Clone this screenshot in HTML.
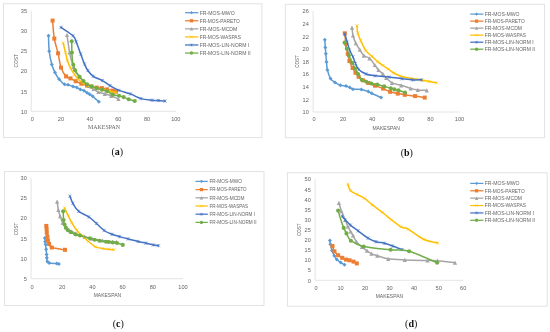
<!DOCTYPE html>
<html><head><meta charset="utf-8"><title>Figure</title>
<style>
html,body{margin:0;padding:0;background:#fff;}
body{width:550px;height:332px;overflow:hidden;}
svg{display:block;}
text{font-family:"Liberation Sans",sans-serif;}
.cap{font-family:"Liberation Serif",serif;}
</style></head><body>
<svg width="550" height="332" viewBox="0 0 550 332">
<rect width="550" height="332" fill="#fff"/>

<g>
<rect x="3.4" y="3.8" width="258.5" height="133.8" fill="#fff" stroke="#dfdfdf" stroke-width="0.9"/>
<path d="M31.3,10.8 V111.3 H175.8" stroke="#dbdbdb" stroke-width="0.75" fill="none"/>
<text x="27" y="113.6" font-size="5.6" fill="#646464" text-anchor="end">10</text>
<text x="27" y="93.5" font-size="5.6" fill="#646464" text-anchor="end">15</text>
<text x="27" y="73.4" font-size="5.6" fill="#646464" text-anchor="end">20</text>
<text x="27" y="53.3" font-size="5.6" fill="#646464" text-anchor="end">25</text>
<text x="27" y="33.2" font-size="5.6" fill="#646464" text-anchor="end">30</text>
<text x="27" y="13.1" font-size="5.6" fill="#646464" text-anchor="end">35</text>
<text x="32.2" y="120.7" font-size="5.6" fill="#646464" text-anchor="middle">0</text>
<text x="60.92" y="120.7" font-size="5.6" fill="#646464" text-anchor="middle">20</text>
<text x="89.64" y="120.7" font-size="5.6" fill="#646464" text-anchor="middle">40</text>
<text x="118.36" y="120.7" font-size="5.6" fill="#646464" text-anchor="middle">60</text>
<text x="147.08" y="120.7" font-size="5.6" fill="#646464" text-anchor="middle">80</text>
<text x="175.8" y="120.7" font-size="5.6" fill="#646464" text-anchor="middle">100</text>
<text x="104" y="129.3" font-size="5.6" fill="#646464" text-anchor="middle" textLength="32" lengthAdjust="spacingAndGlyphs" class="cap">MAKESPAN</text>
<text transform="translate(17.7,60.7) rotate(-90)" font-size="5.6" fill="#646464" text-anchor="middle" textLength="13.5" lengthAdjust="spacingAndGlyphs">COST</text>
<path d="M48.5,35.8 C48.62,38.37 48.65,46.42 49.2,51.2 C49.75,55.98 50.83,60.93 51.8,64.5 C52.77,68.07 53.78,70.15 55,72.6 C56.22,75.05 57.52,77.25 59.1,79.2 C60.68,81.15 63.02,83.37 64.5,84.3 C65.98,85.23 66.58,84.45 68,84.8 C69.42,85.15 71.53,85.93 73,86.4 C74.47,86.87 75.57,87.1 76.8,87.6 C78.03,88.1 79.2,88.88 80.4,89.4 C81.6,89.92 82.9,90.13 84,90.7 C85.1,91.27 86.07,92.2 87,92.8 C87.93,93.4 88.65,93.72 89.6,94.3 C90.55,94.88 91.17,95.07 92.7,96.3 C94.23,97.53 97.78,100.8 98.8,101.7" stroke="#5B9BD5" stroke-width="1.5" fill="none" stroke-linejoin="round" stroke-linecap="round"/>
<path d="M48.5,33.8 l2,2 l-2,2 l-2,-2 z" fill="#5B9BD5"/><path d="M49.2,49.2 l2,2 l-2,2 l-2,-2 z" fill="#5B9BD5"/><path d="M51.8,62.5 l2,2 l-2,2 l-2,-2 z" fill="#5B9BD5"/><path d="M55,70.6 l2,2 l-2,2 l-2,-2 z" fill="#5B9BD5"/><path d="M59.1,77.2 l2,2 l-2,2 l-2,-2 z" fill="#5B9BD5"/><path d="M64.5,82.3 l2,2 l-2,2 l-2,-2 z" fill="#5B9BD5"/><path d="M68,82.8 l2,2 l-2,2 l-2,-2 z" fill="#5B9BD5"/><path d="M73,84.4 l2,2 l-2,2 l-2,-2 z" fill="#5B9BD5"/><path d="M76.8,85.6 l2,2 l-2,2 l-2,-2 z" fill="#5B9BD5"/><path d="M80.4,87.4 l2,2 l-2,2 l-2,-2 z" fill="#5B9BD5"/><path d="M84,88.7 l2,2 l-2,2 l-2,-2 z" fill="#5B9BD5"/><path d="M87,90.8 l2,2 l-2,2 l-2,-2 z" fill="#5B9BD5"/><path d="M89.6,92.3 l2,2 l-2,2 l-2,-2 z" fill="#5B9BD5"/><path d="M92.7,94.3 l2,2 l-2,2 l-2,-2 z" fill="#5B9BD5"/><path d="M98.8,99.7 l2,2 l-2,2 l-2,-2 z" fill="#5B9BD5"/>
<path d="M52.6,20.6 C52.88,23.6 53.38,33.15 54.3,38.6 C55.22,44.05 56.98,48.47 58.1,53.3 C59.22,58.13 59.67,63.75 61,67.6 C62.33,71.45 64.52,74.6 66.1,76.4 C67.68,78.2 68.9,77.6 70.5,78.4 C72.1,79.2 73.88,80.32 75.7,81.2 C77.52,82.08 79.52,82.97 81.4,83.7 C83.28,84.43 85.3,85.12 87,85.6 C88.7,86.08 89.98,86.27 91.6,86.6 C93.22,86.93 94.98,87.35 96.7,87.6 C98.42,87.85 100.18,87.8 101.9,88.1 C103.62,88.4 105.22,88.98 107,89.4 C108.78,89.82 111.1,90.22 112.6,90.6 C114.1,90.98 115.43,91.52 116,91.7" stroke="#ED7D31" stroke-width="1.5" fill="none" stroke-linejoin="round" stroke-linecap="round"/>
<rect x="50.6" y="18.6" width="4" height="4" fill="#ED7D31"/><rect x="52.3" y="36.6" width="4" height="4" fill="#ED7D31"/><rect x="56.1" y="51.3" width="4" height="4" fill="#ED7D31"/><rect x="59" y="65.6" width="4" height="4" fill="#ED7D31"/><rect x="64.1" y="74.4" width="4" height="4" fill="#ED7D31"/><rect x="68.5" y="76.4" width="4" height="4" fill="#ED7D31"/><rect x="73.7" y="79.2" width="4" height="4" fill="#ED7D31"/><rect x="79.4" y="81.7" width="4" height="4" fill="#ED7D31"/><rect x="85" y="83.6" width="4" height="4" fill="#ED7D31"/><rect x="89.6" y="84.6" width="4" height="4" fill="#ED7D31"/><rect x="94.7" y="85.6" width="4" height="4" fill="#ED7D31"/><rect x="99.9" y="86.1" width="4" height="4" fill="#ED7D31"/><rect x="105" y="87.4" width="4" height="4" fill="#ED7D31"/><rect x="110.6" y="88.6" width="4" height="4" fill="#ED7D31"/><rect x="114" y="89.7" width="4" height="4" fill="#ED7D31"/>
<path d="M67,35 C67.22,36.5 67.87,41.08 68.3,44 C68.73,46.92 69.1,49.83 69.6,52.5 C70.1,55.17 70.63,57.58 71.3,60 C71.97,62.42 72.98,65.17 73.6,67 C74.22,68.83 74.1,69.42 75,71 C75.9,72.58 77.5,74.7 79,76.5 C80.5,78.3 82.33,80.25 84,81.8 C85.67,83.35 87.42,84.6 89,85.8 C90.58,87 91.93,87.97 93.5,89 C95.07,90.03 96.52,91.2 98.4,92 C100.28,92.8 102.67,93.17 104.8,93.8 C106.93,94.43 108.93,94.95 111.2,95.8 C113.47,96.65 117.2,98.38 118.4,98.9" stroke="#A5A5A5" stroke-width="1.5" fill="none" stroke-linejoin="round" stroke-linecap="round"/>
<path d="M67,32.9 L69.1,37.1 L64.9,37.1 z" fill="#A5A5A5"/><path d="M69.6,50.4 L71.7,54.6 L67.5,54.6 z" fill="#A5A5A5"/><path d="M73.6,64.9 L75.7,69.1 L71.5,69.1 z" fill="#A5A5A5"/><path d="M79,74.4 L81.1,78.6 L76.9,78.6 z" fill="#A5A5A5"/><path d="M84,79.7 L86.1,83.9 L81.9,83.9 z" fill="#A5A5A5"/><path d="M89,83.7 L91.1,87.9 L86.9,87.9 z" fill="#A5A5A5"/><path d="M93.5,86.9 L95.6,91.1 L91.4,91.1 z" fill="#A5A5A5"/><path d="M98.4,89.9 L100.5,94.1 L96.3,94.1 z" fill="#A5A5A5"/><path d="M104.8,91.7 L106.9,95.9 L102.7,95.9 z" fill="#A5A5A5"/><path d="M111.2,93.7 L113.3,97.9 L109.1,97.9 z" fill="#A5A5A5"/><path d="M118.4,96.8 L120.5,101 L116.3,101 z" fill="#A5A5A5"/>
<path d="M63.2,43 C63.58,44.62 64.8,49.8 65.5,52.7 C66.2,55.6 66.57,57.85 67.4,60.4 C68.23,62.95 69.33,65.67 70.5,68 C71.67,70.33 73.12,72.52 74.4,74.4 C75.68,76.28 76.77,77.9 78.2,79.3 C79.63,80.7 81.45,81.82 83,82.8 C84.55,83.78 85.98,84.53 87.5,85.2 C89.02,85.87 90.35,86.25 92.1,86.8 C93.85,87.35 96.02,87.97 98,88.5 C99.98,89.03 102,89.55 104,90 C106,90.45 107.92,90.78 110,91.2 C112.08,91.62 115.42,92.28 116.5,92.5" stroke="#FFC000" stroke-width="1.5" fill="none" stroke-linejoin="round" stroke-linecap="round"/>
<path d="M61.55,41.35 L64.85,44.65 M61.55,44.65 L64.85,41.35" stroke="#FFC000" stroke-width="0.55" fill="none"/><path d="M63.85,51.05 L67.15,54.35 M63.85,54.35 L67.15,51.05" stroke="#FFC000" stroke-width="0.55" fill="none"/><path d="M65.75,58.75 L69.05,62.05 M65.75,62.05 L69.05,58.75" stroke="#FFC000" stroke-width="0.55" fill="none"/><path d="M68.85,66.35 L72.15,69.65 M68.85,69.65 L72.15,66.35" stroke="#FFC000" stroke-width="0.55" fill="none"/><path d="M72.75,72.75 L76.05,76.05 M72.75,76.05 L76.05,72.75" stroke="#FFC000" stroke-width="0.55" fill="none"/><path d="M76.55,77.65 L79.85,80.95 M76.55,80.95 L79.85,77.65" stroke="#FFC000" stroke-width="0.55" fill="none"/><path d="M81.35,81.15 L84.65,84.45 M81.35,84.45 L84.65,81.15" stroke="#FFC000" stroke-width="0.55" fill="none"/><path d="M85.85,83.55 L89.15,86.85 M85.85,86.85 L89.15,83.55" stroke="#FFC000" stroke-width="0.55" fill="none"/><path d="M90.45,85.15 L93.75,88.45 M90.45,88.45 L93.75,85.15" stroke="#FFC000" stroke-width="0.55" fill="none"/><path d="M96.35,86.85 L99.65,90.15 M96.35,90.15 L99.65,86.85" stroke="#FFC000" stroke-width="0.55" fill="none"/><path d="M102.35,88.35 L105.65,91.65 M102.35,91.65 L105.65,88.35" stroke="#FFC000" stroke-width="0.55" fill="none"/><path d="M108.35,89.55 L111.65,92.85 M108.35,92.85 L111.65,89.55" stroke="#FFC000" stroke-width="0.55" fill="none"/><path d="M114.85,90.85 L118.15,94.15 M114.85,94.15 L118.15,90.85" stroke="#FFC000" stroke-width="0.55" fill="none"/>
<path d="M61,27.4 C63,28.8 70.45,33.37 73,35.8 C75.55,38.23 75.02,38.97 76.3,42 C77.58,45.03 79.33,50.33 80.7,54 C82.07,57.67 83.32,61.25 84.5,64 C85.68,66.75 86.33,68.45 87.8,70.5 C89.27,72.55 90.87,74.62 93.3,76.3 C95.73,77.98 99.62,79.05 102.4,80.6 C105.18,82.15 107.23,83.97 110,85.6 C112.77,87.23 115.6,89.02 119,90.4 C122.4,91.78 126.73,92.53 130.4,93.9 C134.07,95.27 137.4,97.55 141,98.6 C144.6,99.65 149.08,99.88 152,100.2 C154.92,100.52 156.33,100.37 158.5,100.5 C160.67,100.63 163.92,100.92 165,101" stroke="#4472C4" stroke-width="1.5" fill="none" stroke-linejoin="round" stroke-linecap="round"/>
<path d="M59.35,25.75 L62.65,29.05 M59.35,29.05 L62.65,25.75 M61,25.75 L61,29.05" stroke="#4472C4" stroke-width="0.55" fill="none"/><path d="M71.35,34.15 L74.65,37.45 M71.35,37.45 L74.65,34.15 M73,34.15 L73,37.45" stroke="#4472C4" stroke-width="0.55" fill="none"/><path d="M74.65,40.35 L77.95,43.65 M74.65,43.65 L77.95,40.35 M76.3,40.35 L76.3,43.65" stroke="#4472C4" stroke-width="0.55" fill="none"/><path d="M79.05,52.35 L82.35,55.65 M79.05,55.65 L82.35,52.35 M80.7,52.35 L80.7,55.65" stroke="#4472C4" stroke-width="0.55" fill="none"/><path d="M82.85,62.35 L86.15,65.65 M82.85,65.65 L86.15,62.35 M84.5,62.35 L84.5,65.65" stroke="#4472C4" stroke-width="0.55" fill="none"/><path d="M86.15,68.85 L89.45,72.15 M86.15,72.15 L89.45,68.85 M87.8,68.85 L87.8,72.15" stroke="#4472C4" stroke-width="0.55" fill="none"/><path d="M91.65,74.65 L94.95,77.95 M91.65,77.95 L94.95,74.65 M93.3,74.65 L93.3,77.95" stroke="#4472C4" stroke-width="0.55" fill="none"/><path d="M100.75,78.95 L104.05,82.25 M100.75,82.25 L104.05,78.95 M102.4,78.95 L102.4,82.25" stroke="#4472C4" stroke-width="0.55" fill="none"/><path d="M108.35,83.95 L111.65,87.25 M108.35,87.25 L111.65,83.95 M110,83.95 L110,87.25" stroke="#4472C4" stroke-width="0.55" fill="none"/><path d="M117.35,88.75 L120.65,92.05 M117.35,92.05 L120.65,88.75 M119,88.75 L119,92.05" stroke="#4472C4" stroke-width="0.55" fill="none"/><path d="M128.75,92.25 L132.05,95.55 M128.75,95.55 L132.05,92.25 M130.4,92.25 L130.4,95.55" stroke="#4472C4" stroke-width="0.55" fill="none"/><path d="M139.35,96.95 L142.65,100.25 M139.35,100.25 L142.65,96.95 M141,96.95 L141,100.25" stroke="#4472C4" stroke-width="0.55" fill="none"/><path d="M150.35,98.55 L153.65,101.85 M150.35,101.85 L153.65,98.55 M152,98.55 L152,101.85" stroke="#4472C4" stroke-width="0.55" fill="none"/><path d="M156.85,98.85 L160.15,102.15 M156.85,102.15 L160.15,98.85 M158.5,98.85 L158.5,102.15" stroke="#4472C4" stroke-width="0.55" fill="none"/><path d="M163.35,99.35 L166.65,102.65 M163.35,102.65 L166.65,99.35 M165,99.35 L165,102.65" stroke="#4472C4" stroke-width="0.55" fill="none"/>
<path d="M71.7,41.2 C71.73,43.1 71.78,49.47 71.9,52.6 C72.02,55.73 72.17,57.97 72.4,60 C72.63,62.03 72.85,63.1 73.3,64.8 C73.75,66.5 74.05,68.2 75.1,70.2 C76.15,72.2 78.2,75 79.6,76.8 C81,78.6 82.27,79.75 83.5,81 C84.73,82.25 85.65,83.4 87,84.3 C88.35,85.2 89.98,85.77 91.6,86.4 C93.22,87.03 94.98,87.55 96.7,88.1 C98.42,88.65 100.18,89.18 101.9,89.7 C103.62,90.22 105.22,90.4 107,91.2 C108.78,92 110.6,93.73 112.6,94.5 C114.6,95.27 117.17,95.37 119,95.8 C120.83,96.23 121.98,96.53 123.6,97.1 C125.22,97.67 126.83,98.55 128.7,99.2 C130.57,99.85 133.78,100.7 134.8,101" stroke="#70AD47" stroke-width="1.5" fill="none" stroke-linejoin="round" stroke-linecap="round"/>
<circle cx="71.7" cy="41.2" r="2.05" fill="#70AD47"/><circle cx="71.9" cy="52.6" r="2.05" fill="#70AD47"/><circle cx="73.3" cy="64.8" r="2.05" fill="#70AD47"/><circle cx="75.1" cy="70.2" r="2.05" fill="#70AD47"/><circle cx="79.6" cy="76.8" r="2.05" fill="#70AD47"/><circle cx="83.5" cy="81" r="2.05" fill="#70AD47"/><circle cx="87" cy="84.3" r="2.05" fill="#70AD47"/><circle cx="91.6" cy="86.4" r="2.05" fill="#70AD47"/><circle cx="96.7" cy="88.1" r="2.05" fill="#70AD47"/><circle cx="101.9" cy="89.7" r="2.05" fill="#70AD47"/><circle cx="107" cy="91.2" r="2.05" fill="#70AD47"/><circle cx="112.6" cy="94.5" r="2.05" fill="#70AD47"/><circle cx="119" cy="95.8" r="2.05" fill="#70AD47"/><circle cx="123.6" cy="97.1" r="2.05" fill="#70AD47"/><circle cx="128.7" cy="99.2" r="2.05" fill="#70AD47"/><circle cx="134.8" cy="101" r="2.05" fill="#70AD47"/>
<path d="M185,12.7 H198.4" stroke="#5B9BD5" stroke-width="1.25"/>
<path d="M191.5,11.06 l1.64,1.64 l-1.64,1.64 l-1.64,-1.64 z" fill="#5B9BD5"/>
<text x="199.7" y="14.57" font-size="5.2" fill="#646464" textLength="35" lengthAdjust="spacingAndGlyphs">FR-MOS-MWO</text>
<path d="M185,20.77 H198.4" stroke="#ED7D31" stroke-width="1.25"/>
<rect x="189.86" y="19.13" width="3.28" height="3.28" fill="#ED7D31"/>
<text x="199.7" y="22.64" font-size="5.2" fill="#646464" textLength="40.1" lengthAdjust="spacingAndGlyphs">FR-MOS-PARETO</text>
<path d="M185,28.84 H198.4" stroke="#A5A5A5" stroke-width="1.25"/>
<path d="M191.5,27.12 L193.22,30.56 L189.78,30.56 z" fill="#A5A5A5"/>
<text x="199.7" y="30.71" font-size="5.2" fill="#646464" textLength="37.6" lengthAdjust="spacingAndGlyphs">FR-MOS-MCDM</text>
<path d="M185,36.91 H198.4" stroke="#FFC000" stroke-width="1.25"/>
<path d="M190.15,35.56 L192.85,38.26 M190.15,38.26 L192.85,35.56" stroke="#FFC000" stroke-width="0.55" fill="none"/>
<text x="199.7" y="38.78" font-size="5.2" fill="#646464" textLength="41.2" lengthAdjust="spacingAndGlyphs">FR-MOS-WASPAS</text>
<path d="M185,44.98 H198.4" stroke="#4472C4" stroke-width="1.25"/>
<path d="M190.15,43.63 L192.85,46.33 M190.15,46.33 L192.85,43.63 M191.5,43.63 L191.5,46.33" stroke="#4472C4" stroke-width="0.55" fill="none"/>
<text x="199.7" y="46.85" font-size="5.2" fill="#646464" textLength="49.6" lengthAdjust="spacingAndGlyphs">FR-MOS-LIN-NORM I</text>
<path d="M185,53.05 H198.4" stroke="#70AD47" stroke-width="1.25"/>
<circle cx="191.5" cy="53.05" r="1.68" fill="#70AD47"/>
<text x="199.7" y="54.92" font-size="5.2" fill="#646464" textLength="50.9" lengthAdjust="spacingAndGlyphs">FR-MOS-LIN-NORM II</text>
<text class="cap" x="117.3" y="155.4" font-size="10" fill="#111" text-anchor="middle">(<tspan font-weight="bold">a</tspan>)</text>
</g>
<g>
<rect x="285.3" y="4.3" width="259.2" height="133.4" fill="#fff" stroke="#dfdfdf" stroke-width="0.9"/>
<path d="M313.1,11 V112 H459.5" stroke="#dbdbdb" stroke-width="0.75" fill="none"/>
<text x="308.8" y="114.3" font-size="5.6" fill="#646464" text-anchor="end">10</text>
<text x="308.8" y="101.67" font-size="5.6" fill="#646464" text-anchor="end">12</text>
<text x="308.8" y="89.05" font-size="5.6" fill="#646464" text-anchor="end">14</text>
<text x="308.8" y="76.42" font-size="5.6" fill="#646464" text-anchor="end">16</text>
<text x="308.8" y="63.8" font-size="5.6" fill="#646464" text-anchor="end">18</text>
<text x="308.8" y="51.17" font-size="5.6" fill="#646464" text-anchor="end">20</text>
<text x="308.8" y="38.55" font-size="5.6" fill="#646464" text-anchor="end">22</text>
<text x="308.8" y="25.92" font-size="5.6" fill="#646464" text-anchor="end">24</text>
<text x="308.8" y="13.3" font-size="5.6" fill="#646464" text-anchor="end">26</text>
<text x="314" y="121.2" font-size="5.6" fill="#646464" text-anchor="middle">0</text>
<text x="343.1" y="121.2" font-size="5.6" fill="#646464" text-anchor="middle">20</text>
<text x="372.2" y="121.2" font-size="5.6" fill="#646464" text-anchor="middle">40</text>
<text x="401.3" y="121.2" font-size="5.6" fill="#646464" text-anchor="middle">60</text>
<text x="430.4" y="121.2" font-size="5.6" fill="#646464" text-anchor="middle">80</text>
<text x="459.5" y="121.2" font-size="5.6" fill="#646464" text-anchor="middle">100</text>
<text x="386.2" y="129.6" font-size="5.6" fill="#646464" text-anchor="middle" textLength="27.5" lengthAdjust="spacingAndGlyphs">MAKESPAN</text>
<text transform="translate(299.1,61.4) rotate(-90)" font-size="5.6" fill="#646464" text-anchor="middle" textLength="12.5" lengthAdjust="spacingAndGlyphs">COST</text>
<path d="M324.8,39.7 C324.88,40.98 325.13,45.05 325.3,47.4 C325.47,49.75 325.6,51.35 325.8,53.8 C326,56.25 326.23,59.42 326.5,62.1 C326.77,64.78 326.73,67.15 327.4,69.9 C328.07,72.65 329.23,76.52 330.5,78.6 C331.77,80.68 333.35,81.28 335,82.4 C336.65,83.52 338.57,84.68 340.4,85.3 C342.23,85.92 344.42,85.72 346,86.1 C347.58,86.48 348.73,87.08 349.9,87.6 C351.07,88.12 351.08,88.9 353,89.2 C354.92,89.5 358.85,89.02 361.4,89.4 C363.95,89.78 366.6,90.85 368.3,91.5 C370,92.15 369.47,92.28 371.6,93.3 C373.73,94.32 379.52,96.88 381.1,97.6" stroke="#5B9BD5" stroke-width="1.5" fill="none" stroke-linejoin="round" stroke-linecap="round"/>
<path d="M324.8,37.7 l2,2 l-2,2 l-2,-2 z" fill="#5B9BD5"/><path d="M325.3,45.4 l2,2 l-2,2 l-2,-2 z" fill="#5B9BD5"/><path d="M325.8,51.8 l2,2 l-2,2 l-2,-2 z" fill="#5B9BD5"/><path d="M326.5,60.1 l2,2 l-2,2 l-2,-2 z" fill="#5B9BD5"/><path d="M327.4,67.9 l2,2 l-2,2 l-2,-2 z" fill="#5B9BD5"/><path d="M330.5,76.6 l2,2 l-2,2 l-2,-2 z" fill="#5B9BD5"/><path d="M335,80.4 l2,2 l-2,2 l-2,-2 z" fill="#5B9BD5"/><path d="M340.4,83.3 l2,2 l-2,2 l-2,-2 z" fill="#5B9BD5"/><path d="M346,84.1 l2,2 l-2,2 l-2,-2 z" fill="#5B9BD5"/><path d="M349.9,85.6 l2,2 l-2,2 l-2,-2 z" fill="#5B9BD5"/><path d="M353,87.2 l2,2 l-2,2 l-2,-2 z" fill="#5B9BD5"/><path d="M361.4,87.4 l2,2 l-2,2 l-2,-2 z" fill="#5B9BD5"/><path d="M368.3,89.5 l2,2 l-2,2 l-2,-2 z" fill="#5B9BD5"/><path d="M371.6,91.3 l2,2 l-2,2 l-2,-2 z" fill="#5B9BD5"/><path d="M381.1,95.6 l2,2 l-2,2 l-2,-2 z" fill="#5B9BD5"/>
<path d="M344.8,33.3 C344.97,35 345.3,40.08 345.8,43.5 C346.3,46.92 347.2,50.88 347.8,53.8 C348.4,56.72 348.6,58.63 349.4,61 C350.2,63.37 351.58,66.03 352.6,68 C353.62,69.97 354.5,71.33 355.5,72.8 C356.5,74.27 357.32,75.53 358.6,76.8 C359.88,78.07 361.58,79.37 363.2,80.4 C364.82,81.43 366.33,82.12 368.3,83 C370.27,83.88 372.52,84.77 375,85.7 C377.48,86.63 380.68,87.58 383.2,88.6 C385.72,89.62 387.67,90.97 390.1,91.8 C392.53,92.63 395.35,93.1 397.8,93.6 C400.25,94.1 401.92,94.38 404.8,94.8 C407.68,95.22 411.78,95.63 415.1,96.1 C418.42,96.57 423.1,97.35 424.7,97.6" stroke="#ED7D31" stroke-width="1.5" fill="none" stroke-linejoin="round" stroke-linecap="round"/>
<rect x="342.8" y="31.3" width="4" height="4" fill="#ED7D31"/><rect x="343.8" y="41.5" width="4" height="4" fill="#ED7D31"/><rect x="345.8" y="51.8" width="4" height="4" fill="#ED7D31"/><rect x="347.4" y="59" width="4" height="4" fill="#ED7D31"/><rect x="350.6" y="66" width="4" height="4" fill="#ED7D31"/><rect x="353.5" y="70.8" width="4" height="4" fill="#ED7D31"/><rect x="356.6" y="74.8" width="4" height="4" fill="#ED7D31"/><rect x="361.2" y="78.4" width="4" height="4" fill="#ED7D31"/><rect x="366.3" y="81" width="4" height="4" fill="#ED7D31"/><rect x="373" y="83.7" width="4" height="4" fill="#ED7D31"/><rect x="381.2" y="86.6" width="4" height="4" fill="#ED7D31"/><rect x="388.1" y="89.8" width="4" height="4" fill="#ED7D31"/><rect x="395.8" y="91.6" width="4" height="4" fill="#ED7D31"/><rect x="402.8" y="92.8" width="4" height="4" fill="#ED7D31"/><rect x="413.1" y="94.1" width="4" height="4" fill="#ED7D31"/><rect x="422.7" y="95.6" width="4" height="4" fill="#ED7D31"/>
<path d="M352,27.6 C352.17,28.92 352.37,32.9 353,35.5 C353.63,38.1 354.67,40.85 355.8,43.2 C356.93,45.55 358.47,47.53 359.8,49.6 C361.13,51.67 362.18,54.15 363.8,55.6 C365.42,57.05 367.67,56.73 369.5,58.3 C371.33,59.87 373.3,63.05 374.8,65 C376.3,66.95 377.17,68.53 378.5,70 C379.83,71.47 381.52,72.47 382.8,73.8 C384.08,75.13 384.67,76.5 386.2,78 C387.73,79.5 389.5,81.58 392,82.8 C394.5,84.02 398.08,84.37 401.2,85.3 C404.32,86.23 407.93,87.63 410.7,88.4 C413.47,89.17 415.12,89.57 417.8,89.9 C420.48,90.23 425.3,90.32 426.8,90.4" stroke="#A5A5A5" stroke-width="1.5" fill="none" stroke-linejoin="round" stroke-linecap="round"/>
<path d="M352,25.5 L354.1,29.7 L349.9,29.7 z" fill="#A5A5A5"/><path d="M353,33.4 L355.1,37.6 L350.9,37.6 z" fill="#A5A5A5"/><path d="M355.8,41.1 L357.9,45.3 L353.7,45.3 z" fill="#A5A5A5"/><path d="M359.8,47.5 L361.9,51.7 L357.7,51.7 z" fill="#A5A5A5"/><path d="M363.8,53.5 L365.9,57.7 L361.7,57.7 z" fill="#A5A5A5"/><path d="M369.5,56.2 L371.6,60.4 L367.4,60.4 z" fill="#A5A5A5"/><path d="M374.8,62.9 L376.9,67.1 L372.7,67.1 z" fill="#A5A5A5"/><path d="M378.5,67.9 L380.6,72.1 L376.4,72.1 z" fill="#A5A5A5"/><path d="M382.8,71.7 L384.9,75.9 L380.7,75.9 z" fill="#A5A5A5"/><path d="M386.2,75.9 L388.3,80.1 L384.1,80.1 z" fill="#A5A5A5"/><path d="M392,80.7 L394.1,84.9 L389.9,84.9 z" fill="#A5A5A5"/><path d="M401.2,83.2 L403.3,87.4 L399.1,87.4 z" fill="#A5A5A5"/><path d="M410.7,86.3 L412.8,90.5 L408.6,90.5 z" fill="#A5A5A5"/><path d="M417.8,87.8 L419.9,92 L415.7,92 z" fill="#A5A5A5"/><path d="M426.8,88.3 L428.9,92.5 L424.7,92.5 z" fill="#A5A5A5"/>
<path d="M357,25.7 C357.12,26.92 357.08,30.52 357.7,33 C358.32,35.48 359.35,37.67 360.7,40.6 C362.05,43.53 363.92,47.97 365.8,50.6 C367.68,53.23 370.03,54.57 372,56.4 C373.97,58.23 375.77,60.08 377.6,61.6 C379.43,63.12 381.2,64.25 383,65.5 C384.8,66.75 386.6,67.85 388.4,69.1 C390.2,70.35 391.82,71.85 393.8,73 C395.78,74.15 397.52,75.12 400.3,76 C403.08,76.88 407.72,77.75 410.5,78.3 C413.28,78.85 414.92,78.95 417,79.3 C419.08,79.65 420.95,80.03 423,80.4 C425.05,80.77 427.05,81.1 429.3,81.5 C431.55,81.9 435.3,82.58 436.5,82.8" stroke="#FFC000" stroke-width="1.5" fill="none" stroke-linejoin="round" stroke-linecap="round"/>
<path d="M355.35,24.05 L358.65,27.35 M355.35,27.35 L358.65,24.05" stroke="#FFC000" stroke-width="0.55" fill="none"/><path d="M356.05,31.35 L359.35,34.65 M356.05,34.65 L359.35,31.35" stroke="#FFC000" stroke-width="0.55" fill="none"/><path d="M359.05,38.95 L362.35,42.25 M359.05,42.25 L362.35,38.95" stroke="#FFC000" stroke-width="0.55" fill="none"/><path d="M364.15,48.95 L367.45,52.25 M364.15,52.25 L367.45,48.95" stroke="#FFC000" stroke-width="0.55" fill="none"/><path d="M370.35,54.75 L373.65,58.05 M370.35,58.05 L373.65,54.75" stroke="#FFC000" stroke-width="0.55" fill="none"/><path d="M375.95,59.95 L379.25,63.25 M375.95,63.25 L379.25,59.95" stroke="#FFC000" stroke-width="0.55" fill="none"/><path d="M381.35,63.85 L384.65,67.15 M381.35,67.15 L384.65,63.85" stroke="#FFC000" stroke-width="0.55" fill="none"/><path d="M386.75,67.45 L390.05,70.75 M386.75,70.75 L390.05,67.45" stroke="#FFC000" stroke-width="0.55" fill="none"/><path d="M392.15,71.35 L395.45,74.65 M392.15,74.65 L395.45,71.35" stroke="#FFC000" stroke-width="0.55" fill="none"/><path d="M398.65,74.35 L401.95,77.65 M398.65,77.65 L401.95,74.35" stroke="#FFC000" stroke-width="0.55" fill="none"/><path d="M408.85,76.65 L412.15,79.95 M408.85,79.95 L412.15,76.65" stroke="#FFC000" stroke-width="0.55" fill="none"/><path d="M415.35,77.65 L418.65,80.95 M415.35,80.95 L418.65,77.65" stroke="#FFC000" stroke-width="0.55" fill="none"/><path d="M421.35,78.75 L424.65,82.05 M421.35,82.05 L424.65,78.75" stroke="#FFC000" stroke-width="0.55" fill="none"/><path d="M427.65,79.85 L430.95,83.15 M427.65,83.15 L430.95,79.85" stroke="#FFC000" stroke-width="0.55" fill="none"/><path d="M434.85,81.15 L438.15,84.45 M434.85,84.45 L438.15,81.15" stroke="#FFC000" stroke-width="0.55" fill="none"/>
<path d="M344.8,34 C345.22,35.37 346.5,39.55 347.3,42.2 C348.1,44.85 348.65,47.43 349.6,49.9 C350.55,52.37 352.02,54.73 353,57 C353.98,59.27 354.58,61.47 355.5,63.5 C356.42,65.53 356.75,67.45 358.5,69.2 C360.25,70.95 363.25,72.9 366,74 C368.75,75.1 371.17,75.28 375,75.8 C378.83,76.32 384.5,76.62 389,77.1 C393.5,77.58 398.05,78.23 402,78.7 C405.95,79.17 409.45,79.72 412.7,79.9 C415.95,80.08 420.03,79.82 421.5,79.8" stroke="#4472C4" stroke-width="1.5" fill="none" stroke-linejoin="round" stroke-linecap="round"/>
<path d="M343.15,32.35 L346.45,35.65 M343.15,35.65 L346.45,32.35 M344.8,32.35 L344.8,35.65" stroke="#4472C4" stroke-width="0.55" fill="none"/><path d="M345.65,40.55 L348.95,43.85 M345.65,43.85 L348.95,40.55 M347.3,40.55 L347.3,43.85" stroke="#4472C4" stroke-width="0.55" fill="none"/><path d="M347.95,48.25 L351.25,51.55 M347.95,51.55 L351.25,48.25 M349.6,48.25 L349.6,51.55" stroke="#4472C4" stroke-width="0.55" fill="none"/><path d="M351.35,55.35 L354.65,58.65 M351.35,58.65 L354.65,55.35 M353,55.35 L353,58.65" stroke="#4472C4" stroke-width="0.55" fill="none"/><path d="M353.85,61.85 L357.15,65.15 M353.85,65.15 L357.15,61.85 M355.5,61.85 L355.5,65.15" stroke="#4472C4" stroke-width="0.55" fill="none"/><path d="M356.85,67.55 L360.15,70.85 M356.85,70.85 L360.15,67.55 M358.5,67.55 L358.5,70.85" stroke="#4472C4" stroke-width="0.55" fill="none"/><path d="M364.35,72.35 L367.65,75.65 M364.35,75.65 L367.65,72.35 M366,72.35 L366,75.65" stroke="#4472C4" stroke-width="0.55" fill="none"/><path d="M373.35,74.15 L376.65,77.45 M373.35,77.45 L376.65,74.15 M375,74.15 L375,77.45" stroke="#4472C4" stroke-width="0.55" fill="none"/><path d="M387.35,75.45 L390.65,78.75 M387.35,78.75 L390.65,75.45 M389,75.45 L389,78.75" stroke="#4472C4" stroke-width="0.55" fill="none"/><path d="M400.35,77.05 L403.65,80.35 M400.35,80.35 L403.65,77.05 M402,77.05 L402,80.35" stroke="#4472C4" stroke-width="0.55" fill="none"/><path d="M411.05,78.25 L414.35,81.55 M411.05,81.55 L414.35,78.25 M412.7,78.25 L412.7,81.55" stroke="#4472C4" stroke-width="0.55" fill="none"/><path d="M419.85,78.15 L423.15,81.45 M419.85,81.45 L423.15,78.15 M421.5,78.15 L421.5,81.45" stroke="#4472C4" stroke-width="0.55" fill="none"/>
<path d="M344.6,42.6 C344.97,43.63 346.08,46.65 346.8,48.8 C347.52,50.95 347.98,53.17 348.9,55.5 C349.82,57.83 351.28,60.63 352.3,62.8 C353.32,64.97 354.03,66.63 355,68.5 C355.97,70.37 356.98,72.12 358.1,74 C359.22,75.88 360.33,78.5 361.7,79.8 C363.07,81.1 364.68,81.18 366.3,81.8 C367.92,82.42 369.57,83.03 371.4,83.5 C373.23,83.97 375.17,84.12 377.3,84.6 C379.43,85.08 381.95,85.8 384.2,86.4 C386.45,87 389.1,87.7 390.8,88.2 C392.5,88.7 393.12,89.07 394.4,89.4 C395.68,89.73 396.73,89.68 398.5,90.2 C400.27,90.72 403.92,92.12 405,92.5" stroke="#70AD47" stroke-width="1.5" fill="none" stroke-linejoin="round" stroke-linecap="round"/>
<circle cx="344.6" cy="42.6" r="2.05" fill="#70AD47"/><circle cx="346.8" cy="48.8" r="2.05" fill="#70AD47"/><circle cx="348.9" cy="55.5" r="2.05" fill="#70AD47"/><circle cx="352.3" cy="62.8" r="2.05" fill="#70AD47"/><circle cx="355" cy="68.5" r="2.05" fill="#70AD47"/><circle cx="358.1" cy="74" r="2.05" fill="#70AD47"/><circle cx="361.7" cy="79.8" r="2.05" fill="#70AD47"/><circle cx="366.3" cy="81.8" r="2.05" fill="#70AD47"/><circle cx="371.4" cy="83.5" r="2.05" fill="#70AD47"/><circle cx="377.3" cy="84.6" r="2.05" fill="#70AD47"/><circle cx="384.2" cy="86.4" r="2.05" fill="#70AD47"/><circle cx="390.8" cy="88.2" r="2.05" fill="#70AD47"/><circle cx="394.4" cy="89.4" r="2.05" fill="#70AD47"/><circle cx="398.5" cy="90.2" r="2.05" fill="#70AD47"/><circle cx="405" cy="92.5" r="2.05" fill="#70AD47"/>
<path d="M470.2,14.1 H483.4" stroke="#5B9BD5" stroke-width="1.25"/>
<path d="M476.6,12.46 l1.64,1.64 l-1.64,1.64 l-1.64,-1.64 z" fill="#5B9BD5"/>
<text x="484.7" y="15.97" font-size="5.2" fill="#646464" textLength="34.9" lengthAdjust="spacingAndGlyphs">FR-MOS-MWO</text>
<path d="M470.2,21.12 H483.4" stroke="#ED7D31" stroke-width="1.25"/>
<rect x="474.96" y="19.48" width="3.28" height="3.28" fill="#ED7D31"/>
<text x="484.7" y="22.99" font-size="5.2" fill="#646464" textLength="40" lengthAdjust="spacingAndGlyphs">FR-MOS-PARETO</text>
<path d="M470.2,28.14 H483.4" stroke="#A5A5A5" stroke-width="1.25"/>
<path d="M476.6,26.42 L478.32,29.86 L474.88,29.86 z" fill="#A5A5A5"/>
<text x="484.7" y="30.01" font-size="5.2" fill="#646464" textLength="37.4" lengthAdjust="spacingAndGlyphs">FR-MOS-MCDM</text>
<path d="M470.2,35.16 H483.4" stroke="#FFC000" stroke-width="1.25"/>
<path d="M475.25,33.81 L477.95,36.51 M475.25,36.51 L477.95,33.81" stroke="#FFC000" stroke-width="0.55" fill="none"/>
<text x="484.7" y="37.03" font-size="5.2" fill="#646464" textLength="41.3" lengthAdjust="spacingAndGlyphs">FR-MOS-WASPAS</text>
<path d="M470.2,42.18 H483.4" stroke="#4472C4" stroke-width="1.25"/>
<path d="M475.25,40.83 L477.95,43.53 M475.25,43.53 L477.95,40.83 M476.6,40.83 L476.6,43.53" stroke="#4472C4" stroke-width="0.55" fill="none"/>
<text x="484.7" y="44.05" font-size="5.2" fill="#646464" textLength="49" lengthAdjust="spacingAndGlyphs">FR-MOS-LIN-NORM I</text>
<path d="M470.2,49.2 H483.4" stroke="#70AD47" stroke-width="1.25"/>
<circle cx="476.6" cy="49.2" r="1.68" fill="#70AD47"/>
<text x="484.7" y="51.07" font-size="5.2" fill="#646464" textLength="50.3" lengthAdjust="spacingAndGlyphs">FR-MOS-LIN-NORM II</text>
<text class="cap" x="406.8" y="155.6" font-size="10" fill="#111" text-anchor="middle">(<tspan font-weight="bold">b</tspan>)</text>
</g>
<g>
<rect x="4.4" y="171.6" width="259.6" height="133.9" fill="#fff" stroke="#dfdfdf" stroke-width="0.9"/>
<path d="M31.1,177.8 V278.7 H183" stroke="#dbdbdb" stroke-width="0.75" fill="none"/>
<text x="26.8" y="281" font-size="5.6" fill="#646464" text-anchor="end">5</text>
<text x="26.8" y="260.82" font-size="5.6" fill="#646464" text-anchor="end">10</text>
<text x="26.8" y="240.64" font-size="5.6" fill="#646464" text-anchor="end">15</text>
<text x="26.8" y="220.46" font-size="5.6" fill="#646464" text-anchor="end">20</text>
<text x="26.8" y="200.28" font-size="5.6" fill="#646464" text-anchor="end">25</text>
<text x="26.8" y="180.1" font-size="5.6" fill="#646464" text-anchor="end">30</text>
<text x="32" y="288.7" font-size="5.6" fill="#646464" text-anchor="middle">0</text>
<text x="62.2" y="288.7" font-size="5.6" fill="#646464" text-anchor="middle">20</text>
<text x="92.4" y="288.7" font-size="5.6" fill="#646464" text-anchor="middle">40</text>
<text x="122.6" y="288.7" font-size="5.6" fill="#646464" text-anchor="middle">60</text>
<text x="152.8" y="288.7" font-size="5.6" fill="#646464" text-anchor="middle">80</text>
<text x="183" y="288.7" font-size="5.6" fill="#646464" text-anchor="middle">100</text>
<text x="107.4" y="296.9" font-size="5.6" fill="#646464" text-anchor="middle" textLength="27.5" lengthAdjust="spacingAndGlyphs">MAKESPAN</text>
<text transform="translate(17.6,229) rotate(-90)" font-size="5.6" fill="#646464" text-anchor="middle" textLength="12.5" lengthAdjust="spacingAndGlyphs">COST</text>
<path d="M44.8,238 C44.87,238.63 45.07,240.72 45.2,241.8 C45.33,242.88 45.45,243.25 45.6,244.5 C45.75,245.75 45.93,247.65 46.1,249.3 C46.27,250.95 46.48,252.98 46.6,254.4 C46.72,255.82 46.67,256.6 46.8,257.8 C46.93,259 47.02,260.75 47.4,261.6 C47.78,262.45 47.53,262.57 49.1,262.9 C50.67,263.23 55.17,263.43 56.8,263.6 C58.43,263.77 58.55,263.85 58.9,263.9" stroke="#5B9BD5" stroke-width="1.5" fill="none" stroke-linejoin="round" stroke-linecap="round"/>
<path d="M44.8,236 l2,2 l-2,2 l-2,-2 z" fill="#5B9BD5"/><path d="M45.2,239.8 l2,2 l-2,2 l-2,-2 z" fill="#5B9BD5"/><path d="M45.6,242.5 l2,2 l-2,2 l-2,-2 z" fill="#5B9BD5"/><path d="M46.1,247.3 l2,2 l-2,2 l-2,-2 z" fill="#5B9BD5"/><path d="M46.6,252.4 l2,2 l-2,2 l-2,-2 z" fill="#5B9BD5"/><path d="M46.8,255.8 l2,2 l-2,2 l-2,-2 z" fill="#5B9BD5"/><path d="M47.4,259.6 l2,2 l-2,2 l-2,-2 z" fill="#5B9BD5"/><path d="M49.1,260.9 l2,2 l-2,2 l-2,-2 z" fill="#5B9BD5"/><path d="M56.8,261.6 l2,2 l-2,2 l-2,-2 z" fill="#5B9BD5"/><path d="M58.9,261.9 l2,2 l-2,2 l-2,-2 z" fill="#5B9BD5"/>
<path d="M46.3,225.9 C46.35,226.42 46.52,227.85 46.6,229 C46.68,230.15 46.67,231.52 46.8,232.8 C46.93,234.08 47.22,235.42 47.4,236.7 C47.58,237.98 47.62,239.28 47.9,240.5 C48.18,241.72 48.45,242.83 49.1,244 C49.75,245.17 49.15,246.53 51.8,247.5 C54.45,248.47 62.8,249.42 65,249.8" stroke="#ED7D31" stroke-width="1.5" fill="none" stroke-linejoin="round" stroke-linecap="round"/>
<rect x="44.3" y="223.9" width="4" height="4" fill="#ED7D31"/><rect x="44.6" y="227" width="4" height="4" fill="#ED7D31"/><rect x="44.8" y="230.8" width="4" height="4" fill="#ED7D31"/><rect x="45.4" y="234.7" width="4" height="4" fill="#ED7D31"/><rect x="45.9" y="238.5" width="4" height="4" fill="#ED7D31"/><rect x="47.1" y="242" width="4" height="4" fill="#ED7D31"/><rect x="49.8" y="245.5" width="4" height="4" fill="#ED7D31"/><rect x="63" y="247.8" width="4" height="4" fill="#ED7D31"/>
<path d="M57.1,201.6 C57.32,202.97 57.9,207.37 58.4,209.8 C58.9,212.23 59.38,214.07 60.1,216.2 C60.82,218.33 61.63,220.68 62.7,222.6 C63.77,224.52 65,226.22 66.5,227.7 C68,229.18 69.98,230.43 71.7,231.5 C73.42,232.57 74.67,233.23 76.8,234.1 C78.93,234.97 81.95,235.93 84.5,236.7 C87.05,237.47 89.12,238.07 92.1,238.7 C95.08,239.33 98.98,239.98 102.4,240.5 C105.82,241.02 110.25,241.58 112.6,241.8 C114.95,242.02 115.85,241.8 116.5,241.8" stroke="#A5A5A5" stroke-width="1.5" fill="none" stroke-linejoin="round" stroke-linecap="round"/>
<path d="M57.1,199.5 L59.2,203.7 L55,203.7 z" fill="#A5A5A5"/><path d="M58.4,207.7 L60.5,211.9 L56.3,211.9 z" fill="#A5A5A5"/><path d="M60.1,214.1 L62.2,218.3 L58,218.3 z" fill="#A5A5A5"/><path d="M62.7,220.5 L64.8,224.7 L60.6,224.7 z" fill="#A5A5A5"/><path d="M66.5,225.6 L68.6,229.8 L64.4,229.8 z" fill="#A5A5A5"/><path d="M71.7,229.4 L73.8,233.6 L69.6,233.6 z" fill="#A5A5A5"/><path d="M76.8,232 L78.9,236.2 L74.7,236.2 z" fill="#A5A5A5"/><path d="M84.5,234.6 L86.6,238.8 L82.4,238.8 z" fill="#A5A5A5"/><path d="M92.1,236.6 L94.2,240.8 L90,240.8 z" fill="#A5A5A5"/><path d="M102.4,238.4 L104.5,242.6 L100.3,242.6 z" fill="#A5A5A5"/><path d="M112.6,239.7 L114.7,243.9 L110.5,243.9 z" fill="#A5A5A5"/><path d="M116.5,239.7 L118.6,243.9 L114.4,243.9 z" fill="#A5A5A5"/>
<path d="M64.5,208 C65.05,209.15 66.6,212.47 67.8,214.9 C69,217.33 70.2,220.03 71.7,222.6 C73.2,225.17 75.1,228.13 76.8,230.3 C78.5,232.47 79.95,233.73 81.9,235.6 C83.85,237.47 86.23,239.63 88.5,241.5 C90.77,243.37 93.18,245.65 95.5,246.8 C97.82,247.95 100.18,247.98 102.4,248.4 C104.62,248.82 106.88,249.07 108.8,249.3 C110.72,249.53 113.05,249.72 113.9,249.8" stroke="#FFC000" stroke-width="1.5" fill="none" stroke-linejoin="round" stroke-linecap="round"/>
<path d="M62.85,206.35 L66.15,209.65 M62.85,209.65 L66.15,206.35" stroke="#FFC000" stroke-width="0.55" fill="none"/><path d="M66.15,213.25 L69.45,216.55 M66.15,216.55 L69.45,213.25" stroke="#FFC000" stroke-width="0.55" fill="none"/><path d="M70.05,220.95 L73.35,224.25 M70.05,224.25 L73.35,220.95" stroke="#FFC000" stroke-width="0.55" fill="none"/><path d="M75.15,228.65 L78.45,231.95 M75.15,231.95 L78.45,228.65" stroke="#FFC000" stroke-width="0.55" fill="none"/><path d="M80.25,233.95 L83.55,237.25 M80.25,237.25 L83.55,233.95" stroke="#FFC000" stroke-width="0.55" fill="none"/><path d="M86.85,239.85 L90.15,243.15 M86.85,243.15 L90.15,239.85" stroke="#FFC000" stroke-width="0.55" fill="none"/><path d="M93.85,245.15 L97.15,248.45 M93.85,248.45 L97.15,245.15" stroke="#FFC000" stroke-width="0.55" fill="none"/><path d="M100.75,246.75 L104.05,250.05 M100.75,250.05 L104.05,246.75" stroke="#FFC000" stroke-width="0.55" fill="none"/><path d="M107.15,247.65 L110.45,250.95 M107.15,250.95 L110.45,247.65" stroke="#FFC000" stroke-width="0.55" fill="none"/><path d="M112.25,248.15 L115.55,251.45 M112.25,251.45 L115.55,248.15" stroke="#FFC000" stroke-width="0.55" fill="none"/>
<path d="M69.9,196.2 C70.4,197.4 71.45,200.88 72.9,203.4 C74.35,205.92 75.95,209.05 78.6,211.3 C81.25,213.55 85.82,214.87 88.8,216.9 C91.78,218.93 93.93,221.23 96.5,223.5 C99.07,225.77 101.62,228.7 104.2,230.5 C106.78,232.3 109.45,233.28 112,234.3 C114.55,235.32 116.83,235.83 119.5,236.6 C122.17,237.37 124.92,238.08 128,238.9 C131.08,239.72 135,240.78 138,241.5 C141,242.22 143.43,242.63 146,243.2 C148.57,243.77 151.32,244.48 153.4,244.9 C155.48,245.32 157.65,245.57 158.5,245.7" stroke="#4472C4" stroke-width="1.5" fill="none" stroke-linejoin="round" stroke-linecap="round"/>
<path d="M68.25,194.55 L71.55,197.85 M68.25,197.85 L71.55,194.55 M69.9,194.55 L69.9,197.85" stroke="#4472C4" stroke-width="0.55" fill="none"/><path d="M71.25,201.75 L74.55,205.05 M71.25,205.05 L74.55,201.75 M72.9,201.75 L72.9,205.05" stroke="#4472C4" stroke-width="0.55" fill="none"/><path d="M76.95,209.65 L80.25,212.95 M76.95,212.95 L80.25,209.65 M78.6,209.65 L78.6,212.95" stroke="#4472C4" stroke-width="0.55" fill="none"/><path d="M87.15,215.25 L90.45,218.55 M87.15,218.55 L90.45,215.25 M88.8,215.25 L88.8,218.55" stroke="#4472C4" stroke-width="0.55" fill="none"/><path d="M94.85,221.85 L98.15,225.15 M94.85,225.15 L98.15,221.85 M96.5,221.85 L96.5,225.15" stroke="#4472C4" stroke-width="0.55" fill="none"/><path d="M102.55,228.85 L105.85,232.15 M102.55,232.15 L105.85,228.85 M104.2,228.85 L104.2,232.15" stroke="#4472C4" stroke-width="0.55" fill="none"/><path d="M110.35,232.65 L113.65,235.95 M110.35,235.95 L113.65,232.65 M112,232.65 L112,235.95" stroke="#4472C4" stroke-width="0.55" fill="none"/><path d="M117.85,234.95 L121.15,238.25 M117.85,238.25 L121.15,234.95 M119.5,234.95 L119.5,238.25" stroke="#4472C4" stroke-width="0.55" fill="none"/><path d="M126.35,237.25 L129.65,240.55 M126.35,240.55 L129.65,237.25 M128,237.25 L128,240.55" stroke="#4472C4" stroke-width="0.55" fill="none"/><path d="M136.35,239.85 L139.65,243.15 M136.35,243.15 L139.65,239.85 M138,239.85 L138,243.15" stroke="#4472C4" stroke-width="0.55" fill="none"/><path d="M144.35,241.55 L147.65,244.85 M144.35,244.85 L147.65,241.55 M146,241.55 L146,244.85" stroke="#4472C4" stroke-width="0.55" fill="none"/><path d="M151.75,243.25 L155.05,246.55 M151.75,246.55 L155.05,243.25 M153.4,243.25 L153.4,246.55" stroke="#4472C4" stroke-width="0.55" fill="none"/><path d="M156.85,244.05 L160.15,247.35 M156.85,247.35 L160.15,244.05 M158.5,244.05 L158.5,247.35" stroke="#4472C4" stroke-width="0.55" fill="none"/>
<path d="M63.2,211.3 C63.27,212.75 63.37,217.78 63.6,220 C63.83,222.22 64.22,223.3 64.6,224.6 C64.98,225.9 65.33,226.85 65.9,227.8 C66.47,228.75 67.18,229.57 68,230.3 C68.82,231.03 69.57,231.53 70.8,232.2 C72.03,232.87 73.87,233.75 75.4,234.3 C76.93,234.85 77.58,234.85 80,235.5 C82.42,236.15 87.47,237.48 89.9,238.2 C92.33,238.92 93,239.37 94.6,239.8 C96.2,240.23 97.6,240.48 99.5,240.8 C101.4,241.12 104.45,241.5 106,241.7 C107.55,241.9 107.7,241.87 108.8,242 C109.9,242.13 111.23,242.33 112.6,242.5 C113.97,242.67 115.3,242.6 117,243 C118.7,243.4 121.83,244.58 122.8,244.9" stroke="#70AD47" stroke-width="1.5" fill="none" stroke-linejoin="round" stroke-linecap="round"/>
<circle cx="63.2" cy="211.3" r="2.05" fill="#70AD47"/><circle cx="63.6" cy="220" r="2.05" fill="#70AD47"/><circle cx="64.6" cy="224.6" r="2.05" fill="#70AD47"/><circle cx="65.9" cy="227.8" r="2.05" fill="#70AD47"/><circle cx="68" cy="230.3" r="2.05" fill="#70AD47"/><circle cx="70.8" cy="232.2" r="2.05" fill="#70AD47"/><circle cx="75.4" cy="234.3" r="2.05" fill="#70AD47"/><circle cx="80" cy="235.5" r="2.05" fill="#70AD47"/><circle cx="89.9" cy="238.2" r="2.05" fill="#70AD47"/><circle cx="94.6" cy="239.8" r="2.05" fill="#70AD47"/><circle cx="99.5" cy="240.8" r="2.05" fill="#70AD47"/><circle cx="106" cy="241.7" r="2.05" fill="#70AD47"/><circle cx="108.8" cy="242" r="2.05" fill="#70AD47"/><circle cx="112.6" cy="242.5" r="2.05" fill="#70AD47"/><circle cx="117" cy="243" r="2.05" fill="#70AD47"/><circle cx="122.8" cy="244.9" r="2.05" fill="#70AD47"/>
<path d="M195.5,181.4 H207.8" stroke="#5B9BD5" stroke-width="1.25"/>
<path d="M201.45,179.76 l1.64,1.64 l-1.64,1.64 l-1.64,-1.64 z" fill="#5B9BD5"/>
<text x="209.4" y="183.27" font-size="5.2" fill="#646464" textLength="32.5" lengthAdjust="spacingAndGlyphs">FR-MOS-MWO</text>
<path d="M195.5,189.6 H207.8" stroke="#ED7D31" stroke-width="1.25"/>
<rect x="199.81" y="187.96" width="3.28" height="3.28" fill="#ED7D31"/>
<text x="209.4" y="191.47" font-size="5.2" fill="#646464" textLength="37.2" lengthAdjust="spacingAndGlyphs">FR-MOS-PARETO</text>
<path d="M195.5,197.8 H207.8" stroke="#A5A5A5" stroke-width="1.25"/>
<path d="M201.45,196.08 L203.17,199.52 L199.73,199.52 z" fill="#A5A5A5"/>
<text x="209.4" y="199.67" font-size="5.2" fill="#646464" textLength="35.1" lengthAdjust="spacingAndGlyphs">FR-MOS-MCDM</text>
<path d="M195.5,206 H207.8" stroke="#FFC000" stroke-width="1.25"/>
<path d="M200.1,204.65 L202.8,207.35 M200.1,207.35 L202.8,204.65" stroke="#FFC000" stroke-width="0.55" fill="none"/>
<text x="209.4" y="207.87" font-size="5.2" fill="#646464" textLength="38.6" lengthAdjust="spacingAndGlyphs">FR-MOS-WASPAS</text>
<path d="M195.5,214.2 H207.8" stroke="#4472C4" stroke-width="1.25"/>
<path d="M200.1,212.85 L202.8,215.55 M200.1,215.55 L202.8,212.85 M201.45,212.85 L201.45,215.55" stroke="#4472C4" stroke-width="0.55" fill="none"/>
<text x="209.4" y="216.07" font-size="5.2" fill="#646464" textLength="45.7" lengthAdjust="spacingAndGlyphs">FR-MOS-LIN-NORM I</text>
<path d="M195.5,222.4 H207.8" stroke="#70AD47" stroke-width="1.25"/>
<circle cx="201.45" cy="222.4" r="1.68" fill="#70AD47"/>
<text x="209.4" y="224.27" font-size="5.2" fill="#646464" textLength="47.3" lengthAdjust="spacingAndGlyphs">FR-MOS-LIN-NORM II</text>
<text class="cap" x="118.2" y="327" font-size="10" fill="#111" text-anchor="middle">(<tspan font-weight="bold">c</tspan>)</text>
</g>
<g>
<rect x="287.4" y="172.8" width="259.8" height="133.4" fill="#fff" stroke="#dfdfdf" stroke-width="0.9"/>
<path d="M315.1,179.1 V280.3 H463.2" stroke="#dbdbdb" stroke-width="0.75" fill="none"/>
<text x="310.8" y="282.6" font-size="5.6" fill="#646464" text-anchor="end">0</text>
<text x="310.8" y="272.48" font-size="5.6" fill="#646464" text-anchor="end">5</text>
<text x="310.8" y="262.36" font-size="5.6" fill="#646464" text-anchor="end">10</text>
<text x="310.8" y="252.24" font-size="5.6" fill="#646464" text-anchor="end">15</text>
<text x="310.8" y="242.12" font-size="5.6" fill="#646464" text-anchor="end">20</text>
<text x="310.8" y="232" font-size="5.6" fill="#646464" text-anchor="end">25</text>
<text x="310.8" y="221.88" font-size="5.6" fill="#646464" text-anchor="end">30</text>
<text x="310.8" y="211.76" font-size="5.6" fill="#646464" text-anchor="end">35</text>
<text x="310.8" y="201.64" font-size="5.6" fill="#646464" text-anchor="end">40</text>
<text x="310.8" y="191.52" font-size="5.6" fill="#646464" text-anchor="end">45</text>
<text x="310.8" y="181.4" font-size="5.6" fill="#646464" text-anchor="end">50</text>
<text x="316" y="289.5" font-size="5.6" fill="#646464" text-anchor="middle">0</text>
<text x="340.53" y="289.5" font-size="5.6" fill="#646464" text-anchor="middle">10</text>
<text x="365.07" y="289.5" font-size="5.6" fill="#646464" text-anchor="middle">20</text>
<text x="389.6" y="289.5" font-size="5.6" fill="#646464" text-anchor="middle">30</text>
<text x="414.13" y="289.5" font-size="5.6" fill="#646464" text-anchor="middle">40</text>
<text x="438.67" y="289.5" font-size="5.6" fill="#646464" text-anchor="middle">50</text>
<text x="463.2" y="289.5" font-size="5.6" fill="#646464" text-anchor="middle">60</text>
<text x="389.4" y="297.7" font-size="5.6" fill="#646464" text-anchor="middle" textLength="27.5" lengthAdjust="spacingAndGlyphs">MAKESPAN</text>
<text transform="translate(300.9,229.8) rotate(-90)" font-size="5.6" fill="#646464" text-anchor="middle" textLength="12.5" lengthAdjust="spacingAndGlyphs">COST</text>
<path d="M329.9,240.4 C329.98,241.03 330.05,242.5 330.4,244.2 C330.75,245.9 331.35,248.68 332,250.6 C332.65,252.52 333.5,254.2 334.3,255.7 C335.1,257.2 335.73,258.45 336.8,259.6 C337.87,260.75 339.42,261.75 340.7,262.6 C341.98,263.45 343.87,264.35 344.5,264.7" stroke="#5B9BD5" stroke-width="1.5" fill="none" stroke-linejoin="round" stroke-linecap="round"/>
<path d="M329.9,238.4 l2,2 l-2,2 l-2,-2 z" fill="#5B9BD5"/><path d="M330.4,242.2 l2,2 l-2,2 l-2,-2 z" fill="#5B9BD5"/><path d="M332,248.6 l2,2 l-2,2 l-2,-2 z" fill="#5B9BD5"/><path d="M334.3,253.7 l2,2 l-2,2 l-2,-2 z" fill="#5B9BD5"/><path d="M336.8,257.6 l2,2 l-2,2 l-2,-2 z" fill="#5B9BD5"/><path d="M340.7,260.6 l2,2 l-2,2 l-2,-2 z" fill="#5B9BD5"/><path d="M344.5,262.7 l2,2 l-2,2 l-2,-2 z" fill="#5B9BD5"/>
<path d="M332.5,246 C332.83,246.9 333.57,249.87 334.5,251.4 C335.43,252.93 336.82,254.13 338.1,255.2 C339.38,256.27 340.88,257.07 342.2,257.8 C343.52,258.53 344.77,259.18 346,259.6 C347.23,260.02 348.35,259.97 349.6,260.3 C350.85,260.63 352.3,261.08 353.5,261.6 C354.7,262.12 356.25,263.1 356.8,263.4" stroke="#ED7D31" stroke-width="1.5" fill="none" stroke-linejoin="round" stroke-linecap="round"/>
<rect x="330.5" y="244" width="4" height="4" fill="#ED7D31"/><rect x="332.5" y="249.4" width="4" height="4" fill="#ED7D31"/><rect x="336.1" y="253.2" width="4" height="4" fill="#ED7D31"/><rect x="340.2" y="255.8" width="4" height="4" fill="#ED7D31"/><rect x="344" y="257.6" width="4" height="4" fill="#ED7D31"/><rect x="347.6" y="258.3" width="4" height="4" fill="#ED7D31"/><rect x="351.5" y="259.6" width="4" height="4" fill="#ED7D31"/><rect x="354.8" y="261.4" width="4" height="4" fill="#ED7D31"/>
<path d="M338.9,202.9 C339.32,204.27 340.33,208.25 341.4,211.1 C342.47,213.95 344.23,217.45 345.3,220 C346.37,222.55 346.92,224.48 347.8,226.4 C348.68,228.32 349.73,230 350.6,231.5 C351.47,233 352.03,233.7 353,235.4 C353.97,237.1 354.92,239.77 356.4,241.7 C357.88,243.63 360.13,245.52 361.9,247 C363.67,248.48 365.42,249.48 367,250.6 C368.58,251.72 369.68,252.85 371.4,253.7 C373.12,254.55 374.5,254.85 377.3,255.7 C380.1,256.55 383.62,258.1 388.2,258.8 C392.78,259.5 398.27,259.62 404.8,259.9 C411.33,260.18 421.93,260.37 427.4,260.5 C432.87,260.63 433,260.33 437.6,260.7 C442.2,261.07 452.1,262.37 455,262.7" stroke="#A5A5A5" stroke-width="1.5" fill="none" stroke-linejoin="round" stroke-linecap="round"/>
<path d="M338.9,200.8 L341,205 L336.8,205 z" fill="#A5A5A5"/><path d="M341.4,209 L343.5,213.2 L339.3,213.2 z" fill="#A5A5A5"/><path d="M345.3,217.9 L347.4,222.1 L343.2,222.1 z" fill="#A5A5A5"/><path d="M347.8,224.3 L349.9,228.5 L345.7,228.5 z" fill="#A5A5A5"/><path d="M350.6,229.4 L352.7,233.6 L348.5,233.6 z" fill="#A5A5A5"/><path d="M353,233.3 L355.1,237.5 L350.9,237.5 z" fill="#A5A5A5"/><path d="M356.4,239.6 L358.5,243.8 L354.3,243.8 z" fill="#A5A5A5"/><path d="M361.9,244.9 L364,249.1 L359.8,249.1 z" fill="#A5A5A5"/><path d="M367,248.5 L369.1,252.7 L364.9,252.7 z" fill="#A5A5A5"/><path d="M371.4,251.6 L373.5,255.8 L369.3,255.8 z" fill="#A5A5A5"/><path d="M377.3,253.6 L379.4,257.8 L375.2,257.8 z" fill="#A5A5A5"/><path d="M388.2,256.7 L390.3,260.9 L386.1,260.9 z" fill="#A5A5A5"/><path d="M404.8,257.8 L406.9,262 L402.7,262 z" fill="#A5A5A5"/><path d="M427.4,258.4 L429.5,262.6 L425.3,262.6 z" fill="#A5A5A5"/><path d="M437.6,258.6 L439.7,262.8 L435.5,262.8 z" fill="#A5A5A5"/><path d="M455,260.6 L457.1,264.8 L452.9,264.8 z" fill="#A5A5A5"/>
<path d="M347.8,184.2 C348.23,185.27 348.9,188.9 350.4,190.6 C351.9,192.3 354.45,193.12 356.8,194.4 C359.15,195.68 361.95,196.58 364.5,198.3 C367.05,200.02 369.12,202.35 372.1,204.7 C375.08,207.05 379.13,209.85 382.4,212.4 C385.67,214.95 388.6,217.58 391.7,220 C394.8,222.42 398.27,225.37 401,226.9 C403.73,228.43 404.35,227.15 408.1,229.2 C411.85,231.25 418.58,236.9 423.5,239.2 C428.42,241.5 435.25,242.37 437.6,243" stroke="#FFC000" stroke-width="1.5" fill="none" stroke-linejoin="round" stroke-linecap="round"/>
<path d="M346.15,182.55 L349.45,185.85 M346.15,185.85 L349.45,182.55" stroke="#FFC000" stroke-width="0.55" fill="none"/><path d="M348.75,188.95 L352.05,192.25 M348.75,192.25 L352.05,188.95" stroke="#FFC000" stroke-width="0.55" fill="none"/><path d="M355.15,192.75 L358.45,196.05 M355.15,196.05 L358.45,192.75" stroke="#FFC000" stroke-width="0.55" fill="none"/><path d="M362.85,196.65 L366.15,199.95 M362.85,199.95 L366.15,196.65" stroke="#FFC000" stroke-width="0.55" fill="none"/><path d="M370.45,203.05 L373.75,206.35 M370.45,206.35 L373.75,203.05" stroke="#FFC000" stroke-width="0.55" fill="none"/><path d="M380.75,210.75 L384.05,214.05 M380.75,214.05 L384.05,210.75" stroke="#FFC000" stroke-width="0.55" fill="none"/><path d="M390.05,218.35 L393.35,221.65 M390.05,221.65 L393.35,218.35" stroke="#FFC000" stroke-width="0.55" fill="none"/><path d="M399.35,225.25 L402.65,228.55 M399.35,228.55 L402.65,225.25" stroke="#FFC000" stroke-width="0.55" fill="none"/><path d="M406.45,227.55 L409.75,230.85 M406.45,230.85 L409.75,227.55" stroke="#FFC000" stroke-width="0.55" fill="none"/><path d="M421.85,237.55 L425.15,240.85 M421.85,240.85 L425.15,237.55" stroke="#FFC000" stroke-width="0.55" fill="none"/><path d="M435.95,241.35 L439.25,244.65 M435.95,244.65 L439.25,241.35" stroke="#FFC000" stroke-width="0.55" fill="none"/>
<path d="M342.2,216.2 C342.72,216.83 343.93,218.52 345.3,220 C346.67,221.48 348.27,223.3 350.4,225.1 C352.53,226.9 355.17,228.63 358.1,230.8 C361.03,232.97 365.02,236.28 368,238.1 C370.98,239.92 373.27,240.83 376,241.7 C378.73,242.57 381.63,242.58 384.4,243.3 C387.17,244.02 389.62,244.95 392.6,246 C395.58,247.05 400.68,249 402.3,249.6" stroke="#4472C4" stroke-width="1.5" fill="none" stroke-linejoin="round" stroke-linecap="round"/>
<path d="M340.55,214.55 L343.85,217.85 M340.55,217.85 L343.85,214.55 M342.2,214.55 L342.2,217.85" stroke="#4472C4" stroke-width="0.55" fill="none"/><path d="M343.65,218.35 L346.95,221.65 M343.65,221.65 L346.95,218.35 M345.3,218.35 L345.3,221.65" stroke="#4472C4" stroke-width="0.55" fill="none"/><path d="M348.75,223.45 L352.05,226.75 M348.75,226.75 L352.05,223.45 M350.4,223.45 L350.4,226.75" stroke="#4472C4" stroke-width="0.55" fill="none"/><path d="M356.45,229.15 L359.75,232.45 M356.45,232.45 L359.75,229.15 M358.1,229.15 L358.1,232.45" stroke="#4472C4" stroke-width="0.55" fill="none"/><path d="M366.35,236.45 L369.65,239.75 M366.35,239.75 L369.65,236.45 M368,236.45 L368,239.75" stroke="#4472C4" stroke-width="0.55" fill="none"/><path d="M374.35,240.05 L377.65,243.35 M374.35,243.35 L377.65,240.05 M376,240.05 L376,243.35" stroke="#4472C4" stroke-width="0.55" fill="none"/><path d="M382.75,241.65 L386.05,244.95 M382.75,244.95 L386.05,241.65 M384.4,241.65 L384.4,244.95" stroke="#4472C4" stroke-width="0.55" fill="none"/><path d="M390.95,244.35 L394.25,247.65 M390.95,247.65 L394.25,244.35 M392.6,244.35 L392.6,247.65" stroke="#4472C4" stroke-width="0.55" fill="none"/><path d="M400.65,247.95 L403.95,251.25 M400.65,251.25 L403.95,247.95 M402.3,247.95 L402.3,251.25" stroke="#4472C4" stroke-width="0.55" fill="none"/>
<path d="M338.1,210.6 C338.57,212.17 339.97,217.12 340.9,220 C341.83,222.88 342.77,225.67 343.7,227.9 C344.63,230.13 345.3,231.27 346.5,233.4 C347.7,235.53 348.03,238.5 350.9,240.7 C353.77,242.9 357.08,245.08 363.7,246.6 C370.32,248.12 383.03,249.02 390.6,249.8 C398.17,250.58 401.35,249.15 409.1,251.3 C416.85,253.45 432.43,260.8 437.1,262.7" stroke="#70AD47" stroke-width="1.5" fill="none" stroke-linejoin="round" stroke-linecap="round"/>
<circle cx="338.1" cy="210.6" r="2.05" fill="#70AD47"/><circle cx="343.7" cy="227.9" r="2.05" fill="#70AD47"/><circle cx="346.5" cy="233.4" r="2.05" fill="#70AD47"/><circle cx="350.9" cy="240.7" r="2.05" fill="#70AD47"/><circle cx="363.7" cy="246.6" r="2.05" fill="#70AD47"/><circle cx="390.6" cy="249.8" r="2.05" fill="#70AD47"/><circle cx="409.1" cy="251.3" r="2.05" fill="#70AD47"/><circle cx="437.1" cy="262.7" r="2.05" fill="#70AD47"/>
<path d="M470.2,183.4 H483.4" stroke="#5B9BD5" stroke-width="1.25"/>
<path d="M476.6,181.76 l1.64,1.64 l-1.64,1.64 l-1.64,-1.64 z" fill="#5B9BD5"/>
<text x="484.7" y="185.27" font-size="5.2" fill="#646464" textLength="34.9" lengthAdjust="spacingAndGlyphs">FR-MOS-MWO</text>
<path d="M470.2,190.78 H483.4" stroke="#ED7D31" stroke-width="1.25"/>
<rect x="474.96" y="189.14" width="3.28" height="3.28" fill="#ED7D31"/>
<text x="484.7" y="192.65" font-size="5.2" fill="#646464" textLength="40" lengthAdjust="spacingAndGlyphs">FR-MOS-PARETO</text>
<path d="M470.2,198.16 H483.4" stroke="#A5A5A5" stroke-width="1.25"/>
<path d="M476.6,196.44 L478.32,199.88 L474.88,199.88 z" fill="#A5A5A5"/>
<text x="484.7" y="200.03" font-size="5.2" fill="#646464" textLength="37.4" lengthAdjust="spacingAndGlyphs">FR-MOS-MCDM</text>
<path d="M470.2,205.54 H483.4" stroke="#FFC000" stroke-width="1.25"/>
<path d="M475.25,204.19 L477.95,206.89 M475.25,206.89 L477.95,204.19" stroke="#FFC000" stroke-width="0.55" fill="none"/>
<text x="484.7" y="207.41" font-size="5.2" fill="#646464" textLength="41.3" lengthAdjust="spacingAndGlyphs">FR-MOS-WASPAS</text>
<path d="M470.2,212.92 H483.4" stroke="#4472C4" stroke-width="1.25"/>
<path d="M475.25,211.57 L477.95,214.27 M475.25,214.27 L477.95,211.57 M476.6,211.57 L476.6,214.27" stroke="#4472C4" stroke-width="0.55" fill="none"/>
<text x="484.7" y="214.79" font-size="5.2" fill="#646464" textLength="49.2" lengthAdjust="spacingAndGlyphs">FR-MOS-LIN-NORM I</text>
<path d="M470.2,220.3 H483.4" stroke="#70AD47" stroke-width="1.25"/>
<circle cx="476.6" cy="220.3" r="1.68" fill="#70AD47"/>
<text x="484.7" y="222.17" font-size="5.2" fill="#646464" textLength="50.3" lengthAdjust="spacingAndGlyphs">FR-MOS-LIN-NORM II</text>
<text class="cap" x="411.2" y="326.8" font-size="10" fill="#111" text-anchor="middle">(<tspan font-weight="bold">d</tspan>)</text>
</g>
</svg>
</body></html>
